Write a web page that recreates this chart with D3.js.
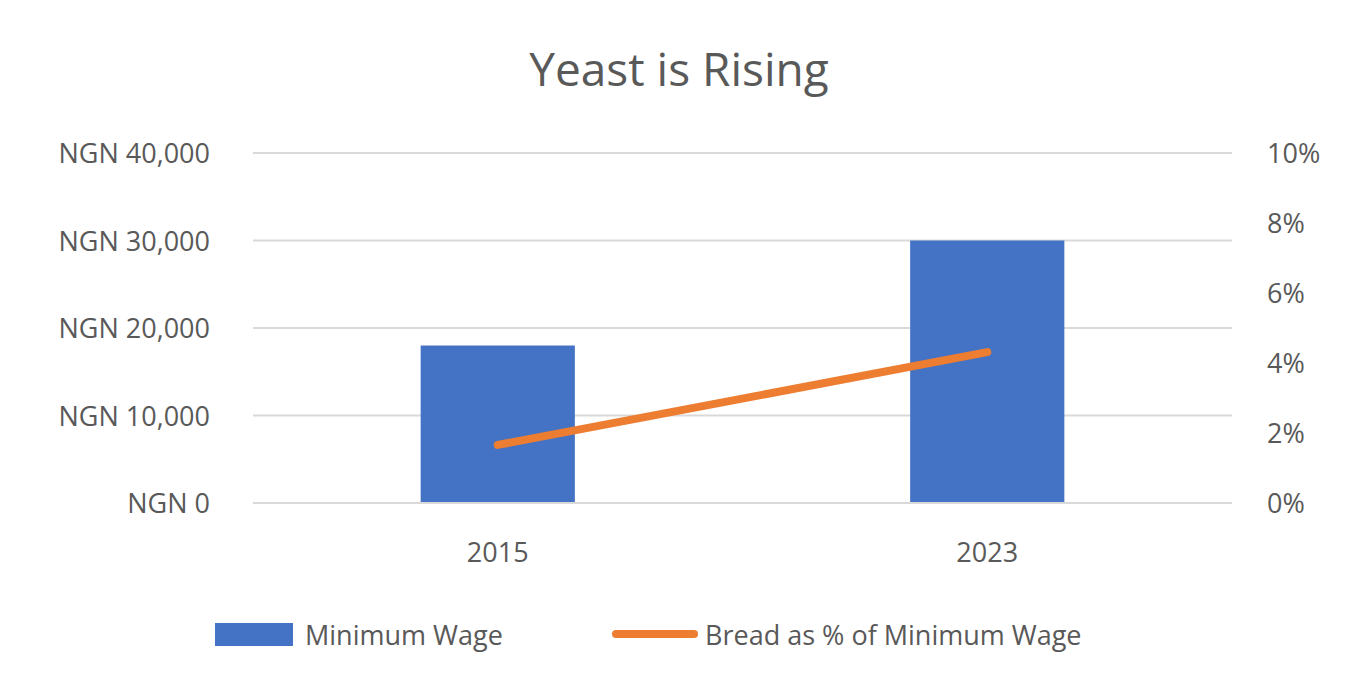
<!DOCTYPE html>
<html><head><meta charset="utf-8">
<script src="https://cdn.jsdelivr.net/npm/d3@7"></script>
<style>body{margin:0;background:#fff}text{font-family:"Open Sans","Liberation Sans",sans-serif;fill:#595959}</style>
</head><body>
<script>
const years = ['2015', '2023'];
const minimumWage = [18000, 30000];
const breadPct = [1.66, 4.31];
const leftTicks = [0, 10000, 20000, 30000, 40000];
const rightTicks = [0, 2, 4, 6, 8, 10];

const W = 1358, H = 694;
const m = {left: 253, right: 1232, top: 153, bottom: 503};
const svg = d3.select('body').append('svg').attr('width', W).attr('height', H);

const x = d3.scaleBand().domain(years).range([m.left, m.right]);
const y = d3.scaleLinear().domain([0, 40000]).range([m.bottom, m.top]);
const y2 = d3.scaleLinear().domain([0, 10]).range([m.bottom, m.top]);

svg.append('text').attr('x', W / 2).attr('y', 86).attr('text-anchor', 'middle')
  .style('font-size', '46px').text('Yeast is Rising');

svg.selectAll('line.grid').data(leftTicks).enter().append('line')
  .attr('x1', m.left).attr('x2', m.right)
  .attr('y1', d => y(d)).attr('y2', d => y(d))
  .attr('stroke', '#d9d9d9').attr('stroke-width', 2);

svg.selectAll('text.l').data(leftTicks).enter().append('text')
  .attr('x', 210).attr('y', d => y(d) + 10).attr('text-anchor', 'end')
  .style('font-size', '27px').text(d => 'NGN ' + d3.format(',')(d));

svg.selectAll('text.r').data(rightTicks).enter().append('text')
  .attr('x', 1267).attr('y', d => y2(d) + 10)
  .style('font-size', '27px').text(d => d + '%');

const bw = x.bandwidth() * 0.315;
svg.selectAll('rect.bar').data(years).enter().append('rect')
  .attr('x', d => x(d) + x.bandwidth() / 2 - bw / 2)
  .attr('y', (d, i) => y(minimumWage[i]))
  .attr('width', bw).attr('height', (d, i) => m.bottom - y(minimumWage[i]))
  .attr('fill', '#4472c4');

svg.append('line').attr('x1', m.left).attr('x2', m.right)
  .attr('y1', m.bottom).attr('y2', m.bottom).attr('stroke', '#d9d9d9').attr('stroke-width', 2);

svg.append('path')
  .attr('d', d3.line().x((d, i) => x(years[i]) + x.bandwidth() / 2).y(d => y2(d))(breadPct))
  .attr('fill', 'none').attr('stroke', '#ed7d31').attr('stroke-width', 8).attr('stroke-linecap', 'round');

svg.selectAll('text.x').data(years).enter().append('text')
  .attr('x', d => x(d) + x.bandwidth() / 2).attr('y', 562).attr('text-anchor', 'middle')
  .style('font-size', '27px').text(d => d);

svg.append('rect').attr('x', 215).attr('y', 623).attr('width', 78).attr('height', 23).attr('fill', '#4472c4');
svg.append('text').attr('x', 305).attr('y', 645).style('font-size', '27px').text('Minimum Wage');
svg.append('line').attr('x1', 616).attr('x2', 694).attr('y1', 634).attr('y2', 634)
  .attr('stroke', '#ed7d31').attr('stroke-width', 8).attr('stroke-linecap', 'round');
svg.append('text').attr('x', 705).attr('y', 645).style('font-size', '27px').text('Bread as % of Minimum Wage');
</script>
</body></html>
